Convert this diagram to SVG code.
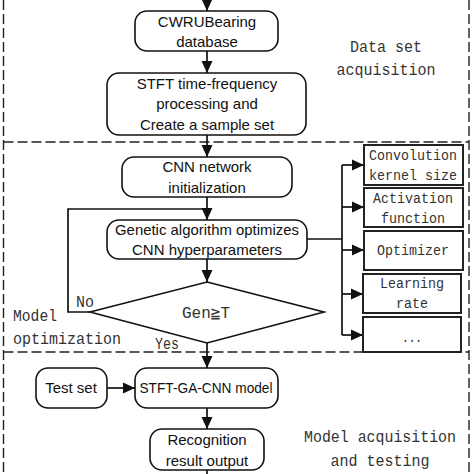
<svg xmlns="http://www.w3.org/2000/svg" width="474" height="474" viewBox="0 0 474 474">
<style>
.bx{fill:#fff;stroke:#111;stroke-width:1.6}
.rb{fill:#fff;stroke:#222;stroke-width:2}
.t{font-family:"Liberation Sans",Arial,sans-serif;font-size:15px;fill:#111;text-anchor:middle}
.m{font-family:"Liberation Mono","DejaVu Sans Mono",monospace;font-size:16.5px;fill:#333;text-anchor:middle}
.ms{font-family:"Liberation Mono","DejaVu Sans Mono",monospace;font-size:15.5px;fill:#333;text-anchor:middle}
.st{text-anchor:start}
.ln{fill:none;stroke:#111;stroke-width:1.7}
.ds{fill:none;stroke:#222;stroke-width:1.4;stroke-dasharray:10 4}
</style>
<defs>
<marker id="ah" markerUnits="userSpaceOnUse" markerWidth="12" markerHeight="12" refX="12" refY="6" orient="auto">
<path d="M0,0.5 L12,6 L0,11.5 z" fill="#111"/>
</marker>
</defs>
<rect width="474" height="474" fill="#fff"/>
<g id="frame">
<line class="ds" x1="3.5" y1="0" x2="3.5" y2="474"/>
<line class="ds" x1="469" y1="0" x2="469" y2="474"/>
<line class="ds" x1="3.5" y1="142" x2="469" y2="142"/>
<line class="ds" x1="3.5" y1="352" x2="469" y2="352"/>
</g>
<g id="connectors">
<path class="ln" d="M207,0 V11" marker-end="url(#ah)"/>
<path class="ln" d="M207,51 V73" marker-end="url(#ah)"/>
<path class="ln" d="M207,135 V157" marker-end="url(#ah)"/>
<path class="ln" d="M207,197 V220" marker-end="url(#ah)"/>
<path class="ln" d="M207,259 V282" marker-end="url(#ah)"/>
<path class="ln" d="M90,312 H68 V209 H207"/>
<path class="ln" d="M207,343 V368" marker-end="url(#ah)"/>
<path class="ln" d="M107,388 H135" marker-end="url(#ah)"/>
<path class="ln" d="M207,408 V429" marker-end="url(#ah)"/>
<path class="ln" d="M207,470 V474"/>
<path class="ln" d="M307,239 H342"/>
<path class="ln" d="M342,165 V335"/>
<path class="ln" d="M342,165 H364" marker-end="url(#ah)"/>
<path class="ln" d="M342,207 H364" marker-end="url(#ah)"/>
<path class="ln" d="M342,250 H364" marker-end="url(#ah)"/>
<path class="ln" d="M342,294 H363" marker-end="url(#ah)"/>
<path class="ln" d="M342,335 H363" marker-end="url(#ah)"/>
</g>
<g id="n-cwru">
<rect class="bx" x="135" y="11" width="143" height="40" rx="12"/>
<text class="t" x="207" y="27">CWRUBearing</text>
<text class="t" x="207" y="47">database</text>
</g>
<g id="n-stft">
<rect class="bx" x="107" y="73" width="199" height="62" rx="12"/>
<text class="t" x="207" y="89">STFT time-frequency</text>
<text class="t" x="207" y="109">processing and</text>
<text class="t" x="207" y="130">Create a sample set</text>
</g>
<g id="n-cnn">
<rect class="bx" x="122" y="157" width="170" height="40" rx="12"/>
<text class="t" x="207" y="172">CNN network</text>
<text class="t" x="207" y="193">initialization</text>
</g>
<g id="n-ga">
<rect class="bx" x="107" y="220" width="200" height="39" rx="12"/>
<text class="t" x="207" y="235" textLength="184" lengthAdjust="spacingAndGlyphs">Genetic algorithm optimizes</text>
<text class="t" x="207" y="255">CNN hyperparameters</text>
</g>
<g id="n-dec">
<polygon class="bx" points="207,282 324,312 207,343 90,312"/>
<text class="m" x="206" y="318" textLength="48" lengthAdjust="spacingAndGlyphs">Gen≧T</text>
<text class="m" x="85" y="307" textLength="18" lengthAdjust="spacingAndGlyphs">No</text>
<text class="m" x="167" y="349" textLength="24" lengthAdjust="spacingAndGlyphs">Yes</text>
</g>
<g id="n-model">
<rect class="bx" x="135" y="368" width="143" height="40" rx="12"/>
<text class="t" x="206" y="393" textLength="133" lengthAdjust="spacingAndGlyphs">STFT-GA-CNN model</text>
</g>
<g id="n-test">
<rect class="bx" x="36" y="368" width="71" height="40" rx="12"/>
<text class="t" x="71" y="393">Test set</text>
</g>
<g id="n-rec">
<rect class="bx" x="150" y="429" width="114" height="41" rx="12"/>
<text class="t" x="207" y="445">Recognition</text>
<text class="t" x="207" y="466">result output</text>
</g>
<g id="p-kernel">
<rect class="rb" x="364" y="145" width="99" height="40"/>
<text class="ms" x="413" y="160" textLength="88" lengthAdjust="spacingAndGlyphs">Convolution</text>
<text class="ms" x="413" y="180" textLength="88" lengthAdjust="spacingAndGlyphs">kernel size</text>
</g>
<g id="p-act">
<rect class="rb" x="364" y="188" width="99" height="39"/>
<text class="ms" x="413" y="203" textLength="80" lengthAdjust="spacingAndGlyphs">Activation</text>
<text class="ms" x="413" y="223" textLength="64" lengthAdjust="spacingAndGlyphs">function</text>
</g>
<g id="p-opt">
<rect class="rb" x="364" y="231" width="99" height="39"/>
<text class="ms" x="413" y="255" textLength="72" lengthAdjust="spacingAndGlyphs">Optimizer</text>
</g>
<g id="p-lr">
<rect class="rb" x="363" y="274" width="98" height="39"/>
<text class="ms" x="412" y="288" textLength="64" lengthAdjust="spacingAndGlyphs">Learning</text>
<text class="ms" x="412" y="308" textLength="32" lengthAdjust="spacingAndGlyphs">rate</text>
</g>
<g id="p-more">
<rect class="rb" x="363" y="317" width="98" height="35"/>
<text class="ms" x="412" y="342" textLength="20" lengthAdjust="spacingAndGlyphs">...</text>
</g>
<g id="labels">
<text class="m" x="386" y="52" textLength="72" lengthAdjust="spacingAndGlyphs">Data set</text>
<text class="m" x="386" y="75" textLength="99" lengthAdjust="spacingAndGlyphs">acquisition</text>
<text class="m st" x="13" y="321" textLength="44" lengthAdjust="spacingAndGlyphs">Model</text>
<text class="m st" x="13" y="344" textLength="108" lengthAdjust="spacingAndGlyphs">optimization</text>
<text class="m" x="380" y="442" textLength="152" lengthAdjust="spacingAndGlyphs">Model acquisition</text>
<text class="m" x="380" y="466" textLength="99" lengthAdjust="spacingAndGlyphs">and testing</text>
</g>
</svg>
